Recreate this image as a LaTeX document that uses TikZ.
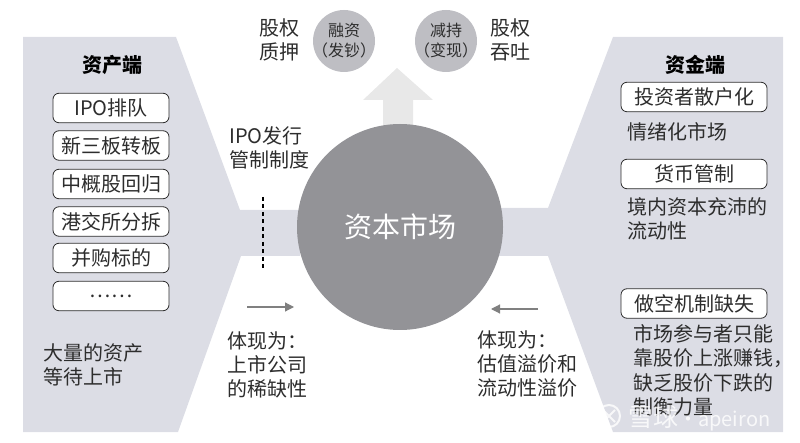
\documentclass[tikz,border=0pt]{standalone}
\usepackage{fontspec}
\setmainfont{Noto Sans CJK SC}
\usetikzlibrary{arrows.meta}
\definecolor{panelgray}{RGB}{220,221,229}
\definecolor{hubgray}{RGB}{147,147,151}
\definecolor{smallgray}{RGB}{190,190,195}
\definecolor{upgray}{RGB}{232,232,232}
\definecolor{inkgray}{RGB}{45,45,45}
\tikzset{
	itembox/.style={draw=inkgray,fill=white,rounded corners=6pt,line width=0.8pt,minimum height=29.5pt,inner sep=0pt,text=inkgray,font=\fontsize{20}{24}\selectfont},
	bodytext/.style={anchor=west,align=left,inner sep=0pt,text=inkgray,font=\fontsize{20}{24.3}\selectfont},
	headtext/.style={inner sep=0pt,text=black,font=\fontsize{20}{24}\selectfont\bfseries},
	smalldisc/.style={circle,fill=smallgray,minimum size=62pt,inner sep=-9pt,align=center,text=inkgray,font=\fontsize{16}{20}\selectfont},
	flowarrow/.style={draw=gray,line width=1.2pt,-{Triangle[length=9pt,width=9pt]}}
}
\begin{document}
\begin{tikzpicture}[x=1pt,y=-1pt]
	\useasboundingbox (0,0) rectangle (800,443);

	% side panels and hub
	\fill[panelgray] (23,37) -- (176,37) -- (240,210) -- (300,210) -- (300,256) -- (241,256) -- (178,432) -- (23,432) -- cycle;
	\fill[panelgray] (783,37) -- (613,37) -- (548,208) -- (495,208) -- (495,256) -- (548,256) -- (613,432) -- (783,432) -- cycle;
	\fill[upgray] (397,68) -- (433,100) -- (413,100) -- (413,130) -- (383,130) -- (383,100) -- (363,100) -- cycle;
	\node[circle,fill=hubgray,minimum size=206pt,inner sep=0pt,text=white,font=\fontsize{28}{32}\selectfont] (hub) at (400,227) {资本市场};

	% top circles
	\node[smalldisc] (finance) at (344,41) {融资\\（发钞）};
	\node[smalldisc] (reduce) at (446,41) {减持\\（变现）};
	\node[bodytext] (pledge) at (259,40) {股权\\质押};
	\node[bodytext] (swallow) at (490,40) {股权\\吞吐};

	% left side
	\node[headtext] (assethead) at (112,65) {资产端};
	\foreach \name/\ypos/\label in {ipo/108/IPO排队,neeq/145.5/新三板转板,china/184/中概股回归,hkex/221.5/港交所分拆,merge/258/并购标的,more/296/……}{
		\node[itembox,minimum width=116pt] (\name) at (111,\ypos) {\label};
	}
	\node[bodytext] (waiting) at (43,365) {大量的资产\\等待上市};
	\node[bodytext] (iporule) at (229,148) {IPO发行\\管制制度};
	\coordinate (gatetop) at (263,197);
	\coordinate (gatebot) at (263,268);
	\draw[line width=2pt,dash pattern=on 4pt off 3.5pt] (gatetop) -- (gatebot);
	\coordinate (leftfrom) at (247,307);
	\coordinate (leftto) at (294,307);
	\draw[flowarrow] (leftfrom) -- (leftto);
	\node[bodytext] (scarce) at (227,365) {体现为：\\上市公司\\的稀缺性};

	% right side
	\node[headtext] (fundhead) at (695,65) {资金端};
	\foreach \name/\ypos/\label in {retail/97/投资者散户化,money/174/货币管制,short/303.5/做空机制缺失}{
		\node[itembox,minimum width=146pt] (\name) at (694,\ypos) {\label};
	}
	\node[bodytext] (mood) at (627,132) {情绪化市场};
	\node[bodytext] (liquid) at (627,219) {境内资本充沛的\\流动性};
	\node[bodytext] (oneway) at (633,370.5) {市场参与者只能\\靠股价上涨赚钱，\\缺乏股价下跌的\\制衡力量};
	\coordinate (rightfrom) at (538,309);
	\coordinate (rightto) at (491,309);
	\draw[flowarrow] (rightfrom) -- (rightto);
	\node[bodytext] (premium) at (477,364) {体现为：\\估值溢价和\\流动性溢价};

	% watermark
	\node[inner sep=0pt,anchor=west,text=white,opacity=0.8,font=\fontsize{20}{24}\selectfont] (mark) at (628,418) {{\fontsize{25}{28}\selectfont 雪球}·apeiron};
	\draw[white,opacity=0.8,line width=2pt] (609,416) circle [radius=11];
	\draw[white,opacity=0.8,line width=2pt] (603,410) -- (615,422) (603,422) -- (615,410);
\end{tikzpicture}
\end{document}
